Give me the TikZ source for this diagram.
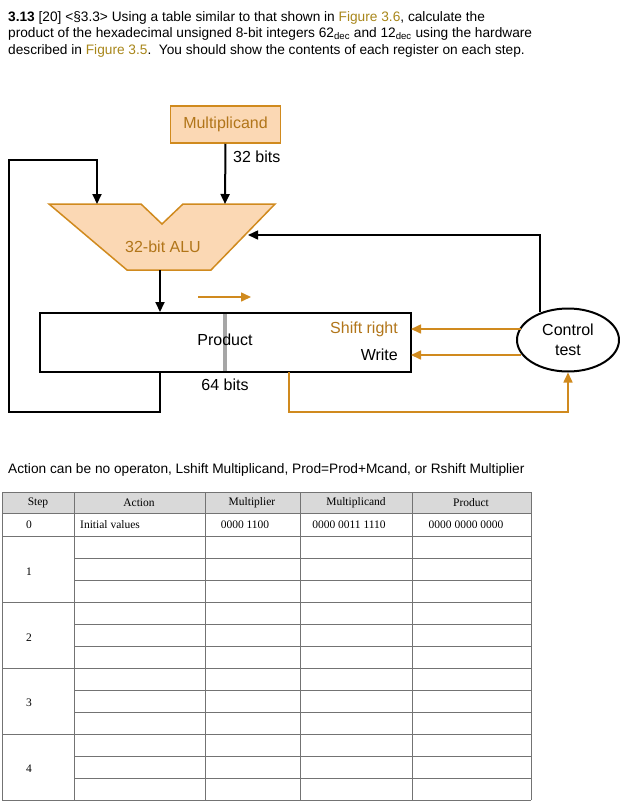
\documentclass[tikz,border=0pt]{standalone}
\usepackage{fontspec}
\setmainfont{Liberation Sans}
\newfontfamily\serf{Liberation Serif}
\usetikzlibrary{arrows.meta,shapes.geometric}
\definecolor{org}{HTML}{D08A1E}
\definecolor{peach}{HTML}{FBD8B4}
\definecolor{figc}{HTML}{A8861A}
\definecolor{hdr}{HTML}{D9D9D9}
\tikzset{
  blk/.style={draw=black, line width=2pt},
  arr/.style={-{Triangle[length=10pt,width=9pt]}},
  oarr/.style={draw=org, line width=1.6pt, -{Triangle[length=10pt,width=9pt]}},
  txt/.style={inner sep=0pt, font=\fontsize{13.7}{16}\selectfont},
  dtxt/.style={inner sep=0pt, font=\fontsize{16}{19}\selectfont},
  tcell/.style={inner sep=0pt, font=\serf\fontsize{11.5}{13}\selectfont},
  grid/.style={draw=black!55, line width=0.7pt}
}
\begin{document}
\begin{tikzpicture}[x=1pt,y=-1pt]
\useasboundingbox (0,0) rectangle (620,804);
% header
\node[txt, anchor=base west] (h1) at (8,21) {\textbf{3.13} [20] <§3.3> Using a table similar to that shown in \textcolor{figc}{Figure 3.6}, calculate the};
\node[txt, anchor=base west] (h2) at (8,37) {product of the hexadecimal unsigned 8-bit integers 62\textsubscript{dec} and 12\textsubscript{dec} using the hardware};
\node[txt, anchor=base west] (h3) at (8,54) {described in \textcolor{figc}{Figure 3.5}.\ \ You should show the contents of each register on each step.};
% multiplicand
\node[draw=org, fill=peach, line width=1.5pt, minimum width=110pt, minimum height=37pt, inner sep=0pt, dtxt, text=org!85!black] (mc) at (225.5,124.5) {Multiplicand};
\node[dtxt, anchor=west] (b32) at (233,157) {32 bits};
% ALU
\draw[draw=org, fill=peach, line width=1.5pt] (49,204) -- (141,204) -- (162,224) -- (183,204) -- (275,204) -- (211,270) -- (127,270) -- cycle;
\node[dtxt, text=org!85!black] (alu) at (163,247) {32-bit ALU};
\coordinate (aluL) at (97,204);
\coordinate (aluR) at (225,204);
\coordinate (aluB) at (160,270);
\coordinate (aluS) at (248,235);
% product
\node[draw, line width=2pt, minimum width=371pt, minimum height=59pt, inner sep=0pt] (pr) at (225.5,342.5) {};
\draw[draw=black!35, line width=3.5pt] (225,314) -- (225,371);
\node[dtxt] (ptx) at (225,340) {Product};
\node[dtxt, text=org!85!black, anchor=east] (sr) at (398,329) {Shift right};
\node[dtxt, anchor=east] (wr) at (398,355) {Write};
\node[dtxt] (b64) at (225,385) {64 bits};
\draw[oarr] (198,297) -- (251,297);
% control
\node[draw, ellipse, line width=2pt, minimum width=102pt, minimum height=63pt, inner sep=0pt, align=center, font=\fontsize{16}{20}\selectfont] (ct) at (568,340) {Control\\test};
\coordinate (ctT) at (540,312);
\coordinate (ctA) at (521,329);
\coordinate (ctB) at (521,355);
% connectors
\draw[blk, arr] (mc.south) -- (aluR);
\draw[blk, arr] (aluB) -- (aluB |- pr.north);
\draw[blk, arr] (pr.south -| aluB) -- (160,412) -- (9,412) -- (9,160) -- (97,160) -- (aluL);
\draw[blk, line width=1.5pt, arr] (ctT) -- (540,235) -- (aluS);
\draw[oarr] (ctA) -- (411,329);
\draw[oarr] (ctB) -- (411,355);
\draw[oarr] (289,372) -- (289,412) -- (568,412) -- (ct.south);
% action text
\node[txt, anchor=base west] (act) at (8,473) {Action can be no operaton, Lshift Multiplicand, Prod=Prod+Mcand, or Rshift Multiplier};
% table
\fill[hdr] (2,492) rectangle (531,513);
\foreach \y in {492,513,536,602,668,734,800} \draw[grid] (2,\y) -- (531,\y);
\foreach \b in {536,602,668,734} {
  \draw[grid] (74,\b+22) -- (531,\b+22);
  \draw[grid] (74,\b+44) -- (531,\b+44);
}
\foreach \x in {2,74,205,300,412,531} \draw[grid] (\x,492) -- (\x,800);
\node[tcell] (c1) at (38,503) {Step};
\node[tcell] (c2) at (139,503) {Action};
\node[tcell] (c3) at (252,503) {Multiplier};
\node[tcell] (c4) at (356,503) {Multiplicand};
\node[tcell] (c5) at (471,503) {Product};
\node[tcell] (r0) at (29,524.5) {0};
\node[tcell, anchor=west] (r0a) at (80,524.5) {Initial values};
\node[tcell] (r0b) at (245,524.5) {0000 1100};
\node[tcell] (r0c) at (349,524.5) {0000 0011 1110};
\node[tcell] (r0d) at (466,524.5) {0000 0000 0000};
\node[tcell] (s1) at (29,572) {1};
\node[tcell] (s2) at (29,638) {2};
\node[tcell] (s3) at (29,703) {3};
\node[tcell] (s4) at (29,769) {4};
\end{tikzpicture}
\end{document}
